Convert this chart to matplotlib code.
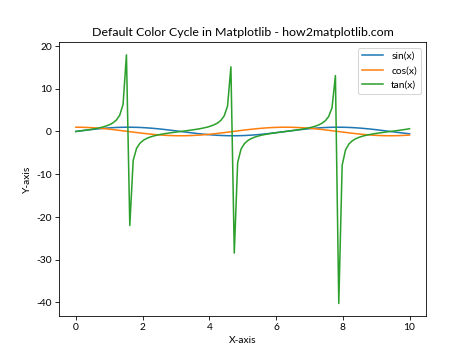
import matplotlib
matplotlib.use("Agg")
import matplotlib.pyplot as plt

plt.rcParams['font.family'] = ['Lato', 'DejaVu Sans']
plt.rcParams['axes.unicode_minus'] = False

x = [0.000, 0.101, 0.202, 0.303, 0.404, 0.505, 0.606, 0.707, 0.808, 0.909,
     1.010, 1.111, 1.212, 1.313, 1.414, 1.515, 1.616, 1.717, 1.818, 1.919,
     2.020, 2.121, 2.222, 2.323, 2.424, 2.525, 2.626, 2.727, 2.828, 2.929,
     3.030, 3.131, 3.232, 3.333, 3.434, 3.535, 3.636, 3.737, 3.838, 3.939,
     4.040, 4.141, 4.242, 4.343, 4.444, 4.545, 4.646, 4.747, 4.848, 4.949,
     5.051, 5.152, 5.253, 5.354, 5.455, 5.556, 5.657, 5.758, 5.859, 5.960,
     6.061, 6.162, 6.263, 6.364, 6.465, 6.566, 6.667, 6.768, 6.869, 6.970,
     7.071, 7.172, 7.273, 7.374, 7.475, 7.576, 7.677, 7.778, 7.879, 7.980,
     8.081, 8.182, 8.283, 8.384, 8.485, 8.586, 8.687, 8.788, 8.889, 8.990,
     9.091, 9.192, 9.293, 9.394, 9.495, 9.596, 9.697, 9.798, 9.899, 10.000]

sin_vals = [0.0000, 0.1008, 0.2006, 0.2984, 0.3931, 0.4839, 0.5697, 0.6496, 0.7230, 0.7889,
            0.8469, 0.8962, 0.9364, 0.9670, 0.9878, 0.9985, 0.9990, 0.9893, 0.9696, 0.9399,
            0.9007, 0.8523, 0.7952, 0.7300, 0.6574, 0.5780, 0.4928, 0.4026, 0.3082, 0.2107,
            0.1111, 0.0103, -0.0906, -0.1905, -0.2885, -0.3837, -0.4748, -0.5612, -0.6418, -0.7158,
            -0.7826, -0.8413, -0.8915, -0.9327, -0.9643, -0.9861, -0.9978, -0.9994, -0.9908, -0.9720,
            -0.9434, -0.9051, -0.8576, -0.8014, -0.7371, -0.6651, -0.5864, -0.5017, -0.4120, -0.3180,
            -0.2208, -0.1213, -0.0206, 0.0803, 0.1804, 0.2788, 0.3742, 0.4658, 0.5526, 0.6338,
            0.7086, 0.7761, 0.8357, 0.8868, 0.9289, 0.9615, 0.9843, 0.9971, 0.9997, 0.9921,
            0.9744, 0.9467, 0.9094, 0.8629, 0.8075, 0.7439, 0.6727, 0.5947, 0.5106, 0.4213,
            0.3277, 0.2308, 0.1315, 0.0308, -0.0701, -0.1703, -0.2688, -0.3646, -0.4566, -0.5440]

cos_vals = [1.0000, 0.9949, 0.9797, 0.9544, 0.9195, 0.8751, 0.8219, 0.7603, 0.6909, 0.6145,
            0.5318, 0.4437, 0.3511, 0.2549, 0.1561, 0.0556, -0.0454, -0.1459, -0.2449, -0.3414,
            -0.4344, -0.5230, -0.6063, -0.6834, -0.7535, -0.8160, -0.8701, -0.9154, -0.9513, -0.9775,
            -0.9938, -0.9999, -0.9959, -0.9817, -0.9575, -0.9235, -0.8801, -0.8277, -0.7669, -0.6983,
            -0.6225, -0.5405, -0.4529, -0.3607, -0.2648, -0.1661, -0.0659, 0.0351, 0.1357, 0.2349,
            0.3317, 0.4251, 0.5142, 0.5981, 0.6758, 0.7468, 0.8100, 0.8650, 0.9112, 0.9481,
            0.9753, 0.9926, 0.9998, 0.9968, 0.9836, 0.9604, 0.9274, 0.8849, 0.8334, 0.7735,
            0.7056, 0.6306, 0.5491, 0.4620, 0.3703, 0.2747, 0.1764, 0.0762, -0.0248, -0.1255,
            -0.2249, -0.3220, -0.4158, -0.5054, -0.5898, -0.6683, -0.7399, -0.8039, -0.8598, -0.9069,
            -0.9448, -0.9730, -0.9913, -0.9995, -0.9975, -0.9854, -0.9632, -0.9312, -0.8897, -0.8391]

tan_vals = [0.000, 0.101, 0.205, 0.313, 0.428, 0.553, 0.693, 0.854, 1.047, 1.284,
            1.593, 2.020, 2.667, 3.794, 6.329, 17.953, -22.028, -6.782, -3.959, -2.753,
            -2.073, -1.630, -1.312, -1.068, -0.873, -0.708, -0.566, -0.440, -0.324, -0.216,
            -0.112, -0.010, 0.091, 0.194, 0.301, 0.416, 0.540, 0.678, 0.837, 1.025,
            1.257, 1.557, 1.969, 2.586, 3.642, 5.936, 15.147, -28.490, -7.302, -4.138,
            -2.844, -2.129, -1.668, -1.340, -1.091, -0.891, -0.724, -0.580, -0.452, -0.335,
            -0.226, -0.122, -0.021, 0.081, 0.183, 0.290, 0.404, 0.526, 0.663, 0.820,
            1.004, 1.231, 1.522, 1.920, 2.509, 3.500, 5.581, 13.097, -40.305, -7.906,
            -4.333, -2.940, -2.187, -1.707, -1.369, -1.113, -0.909, -0.740, -0.594, -0.465,
            -0.347, -0.237, -0.133, -0.031, 0.070, 0.173, 0.279, 0.392, 0.513, 0.648]

labels = ['sin(x)', 'cos(x)', 'tan(x)']
title = 'Default Color Cycle in Matplotlib - how2matplotlib.com'

fig, ax = plt.subplots(figsize=(6.4, 4.8), dpi=74)
ax.plot(x, sin_vals, label=labels[0])
ax.plot(x, cos_vals, label=labels[1])
ax.plot(x, tan_vals, label=labels[2])
ax.set_title(title)
ax.set_xlabel('X-axis')
ax.set_ylabel('Y-axis')
ax.legend()
fig.savefig('out.png', dpi=74)
